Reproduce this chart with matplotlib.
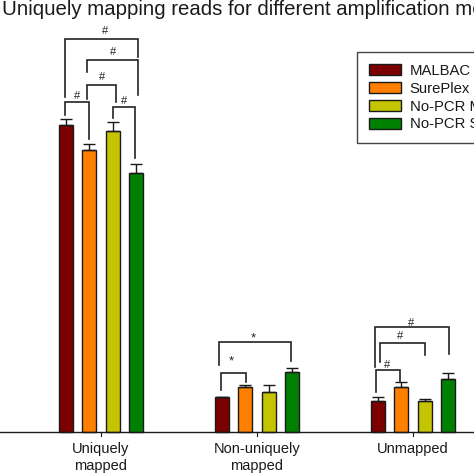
import matplotlib
matplotlib.use('Agg')

import numpy as np
from matplotlib import pyplot as plt

plt.rcParams['font.family'] = ['Liberation Sans', 'DejaVu Sans']

categories = ['Uniquely\nmapped', 'Non-uniquely\nmapped', 'Unmapped']
methods = ['MALBAC', 'SurePlex', 'No-PCR MALBAC', 'No-PCR SurePlex']
colors = ['#7b0000', '#ff8000', '#c4c400', '#008000']

# one row per method, one column per category (no y axis in the original, so arbitrary units)
malbac = [307, 34.5, 31]
sureplex = [282, 44.5, 44.5]
nopcr_malbac = [301, 40, 31]
nopcr_sureplex = [259, 60, 52.5]
values = [malbac, sureplex, nopcr_malbac, nopcr_sureplex]

malbac_err = [5.5, 0.5, 4]
sureplex_err = [6, 2.5, 5]
nopcr_malbac_err = [8.5, 7, 2]
nopcr_sureplex_err = [8.5, 4, 6]
errors = [malbac_err, sureplex_err, nopcr_malbac_err, nopcr_sureplex_err]

group_x = [101, 257, 413]
bar_offsets = [-35.1, -11.7, 11.7, 35.1]
bar_width = 14

# significance brackets: x left, y left, y top, x right, y right, label, label x, label y
brackets = [
    (65, 334.8, 392.5, 138.3, 374.2, '#', 104.7, 400.5),
    (87.3, 359.2, 371.2, 138.3, 336.5, '#', 112.7, 379.2),
    (87.3, 332.5, 346.8, 116, 329.8, '#', 101.7, 354.8),
    (65.3, 316.5, 329.8, 88.7, 292.2, '#', 76.7, 335.8),
    (112.7, 313.2, 324.2, 135.3, 273.2, '#', 124, 330.5),
    (219, 66.8, 89.5, 291, 70.5, '*', 253.7, 93),
    (220.7, 41.8, 58.8, 246.3, 49.5, '*', 231.7, 70),
    (375, 64.5, 104.2, 449.3, 77.8, '#', 410.7, 108.8),
    (380, 69.5, 88.8, 424.7, 76.2, '#', 400.3, 95.5),
    (376.3, 39.5, 61.2, 400, 49.5, '#', 387, 66.2),
]

fig = plt.figure(figsize=(4.74, 4.74), dpi=100)
ax = fig.add_axes([0, 0, 1, 1])
ax.set_xlim(0, 474)
ax.set_ylim(-42.5, 431.5)

for i, method in enumerate(methods):
    xs = np.array(group_x) + bar_offsets[i]
    ax.bar(xs, values[i], bar_width, color=colors[i], edgecolor='#1a1a1a',
           linewidth=1.0, label=method)
    zero_err = np.zeros(len(xs))
    ax.errorbar(xs, values[i], yerr=[zero_err, errors[i]], fmt='none',
                ecolor='#1a1a1a', elinewidth=1.0, capsize=4.3, capthick=1.0)

for x1, y1, top, x2, y2, label, tx, ty in brackets:
    ax.plot([x1, x1, x2, x2], [y1, top, top, y2], color='#222222', lw=1.2,
            solid_joinstyle='miter')
    size = 8 if label == '#' else 9.5
    ax.text(tx, ty, label, ha='center', va='center', fontsize=size, color='#222222')

# axis line and ticks are drawn by hand because the axes fills the whole picture
ax.axhline(0, color='#1a1a1a', lw=1.0)
for x, label in zip(group_x, categories):
    ax.plot([x, x], [0, -4], color='#1a1a1a', lw=0.8)
    ax.text(x, -11, label, ha='center', va='top', fontsize=10.5,
            linespacing=1.2, color='#1a1a1a')

ax.text(2, 416.5, 'Uniquely mapping reads for different amplification methods',
        ha='left', va='baseline', fontsize=14.7, color='#1a1a1a')

legend = ax.legend(loc='upper left', bbox_to_anchor=(357.3 / 474, 1 - 52 / 474), frameon=True,
                   fancybox=False, edgecolor='#444444', framealpha=1, fontsize=10.7,
                   handlelength=2.17, handleheight=0.75, labelspacing=0.26, handletextpad=0.55,
                   borderpad=0.8, borderaxespad=0, labelcolor='#1a1a1a')
legend.get_frame().set_linewidth(1.0)

ax.axis('off')
fig.savefig('out.png', dpi=100)
